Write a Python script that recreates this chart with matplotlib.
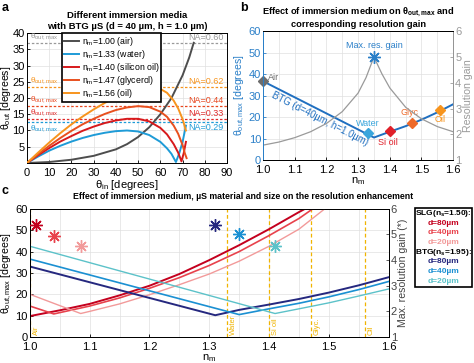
import matplotlib
matplotlib.use('Agg')
import matplotlib.pyplot as plt
from matplotlib.patches import Rectangle

plt.rcParams['font.family'] = ['Liberation Sans', 'DejaVu Sans']
plt.rcParams['mathtext.fontset'] = 'custom'
plt.rcParams['mathtext.rm'] = 'Liberation Sans'
plt.rcParams['mathtext.it'] = 'Liberation Sans:italic'
plt.rcParams['mathtext.bf'] = 'Liberation Sans:bold'
plt.rcParams['font.size'] = 7
for ax_ in ('xtick', 'ytick'):
    plt.rcParams[ax_ + '.direction'] = 'in'
    plt.rcParams[ax_ + '.major.size'] = 2.5
    plt.rcParams[ax_ + '.major.width'] = 0.6
    plt.rcParams[ax_ + '.labelsize'] = 8
    plt.rcParams[ax_ + '.major.pad'] = 1.5
plt.rcParams['xtick.major.pad'] = 3.5
plt.rcParams['axes.linewidth'] = 0.7

# ---------------- data: panel a ----------------
air_in = [0, 10, 20, 30, 40, 45, 50, 55, 60, 65, 70, 73, 75]
air_out = [0, 0.3, 1.0, 2.2, 4.2, 5.8, 8.0, 11.0, 15.0, 20.0, 27.0, 32.5, 37.0]
water_in = [0, 5, 10, 15, 20, 25, 30, 35, 40, 45, 50, 55, 60, 63, 65, 67, 68.5, 70, 71.5]
water_out = [0, 2.0, 3.8, 5.3, 6.6, 7.7, 8.6, 9.3, 9.8, 10.0, 9.7, 8.6, 6.5, 4.5, 2.8, 0.3, 3.0, 6.5, 11.5]
sil_in = [0, 5, 10, 15, 20, 25, 30, 35, 40, 45, 50, 55, 60, 63, 66, 68, 69.5, 70.5, 71.5]
sil_out = [0, 2.4, 4.6, 6.6, 8.3, 9.9, 11.2, 12.3, 13.1, 13.6, 13.6, 12.8, 10.8, 8.8, 5.8, 3.2, 0.5, 3.0, 6.5]
gly_in = [0, 5, 10, 15, 20, 25, 30, 35, 40, 45, 50, 55, 60, 63, 66, 68, 70, 71, 71.8]
gly_out = [0, 2.7, 5.3, 7.7, 9.9, 11.9, 13.6, 15.1, 16.3, 17.1, 17.5, 17.2, 15.8, 14.2, 11.5, 9.0, 5.5, 3.0, 1.5]
oil_in = [0, 5, 10, 15, 20, 25, 30, 35, 40, 45, 50, 55, 60, 63, 66, 68, 70, 71.5]
oil_out = [0, 3.2, 6.3, 9.2, 11.9, 14.3, 16.5, 18.5, 20.2, 21.6, 22.7, 23.3, 22.8, 21.6, 19.2, 16.8, 13.5, 10.0]
a_labels = ['=1.00 (air)', '=1.33 (water)', '=1.40 (silicon oil)', '=1.47 (glycerol)', '=1.56 (oil)']
a_colors = ['#4d4d4d', '#1e9bd7', '#d7191c', '#e8501e', '#f7941d']
na_vals = [36.9, 23.4, 17.4, 13.6, 12.6]
na_text = ['NA=0.60', 'NA=0.62', 'NA=0.44', 'NA=0.33', 'NA=0.29']
na_colors = ['#999999', '#f7941d', '#e8461e', '#e02a2a', '#1e9bd7']

# ---------------- data: panel b ----------------
btg_n = [1.0, 1.35, 1.4, 1.45, 1.5, 1.55, 1.6]
btg_t = [36.7, 10.5, 13.2, 15.8, 18.8, 22.2, 26.0]
gain_n = [1.0, 1.05, 1.1, 1.15, 1.2, 1.25, 1.3, 1.325, 1.35, 1.375, 1.4, 1.45, 1.5, 1.55, 1.6]
gain_v = [1.58, 1.70, 1.87, 2.10, 2.42, 2.88, 3.60, 4.20, 5.0, 4.35, 3.80, 3.05, 2.60, 2.30, 2.10]
med_names = ['Air', 'Water', 'Si oil', 'Glyc.', 'Oil']
med_n = [1.00, 1.33, 1.40, 1.47, 1.56]
med_t = [36.7, 12.6, 13.4, 17.2, 23.4]
med_colors = ['#6d6d6d', '#3aa6dc', '#e0202a', '#ee6a2a', '#f7941d']

# ---------------- data: panel c ----------------
slg80_n = [1.0, 1.05, 1.1, 1.15, 1.2, 1.25, 1.3, 1.35, 1.4, 1.45, 1.46]
slg80_t = [9.8, 12.5, 15.5, 19.5, 24.0, 29.5, 36.0, 43.0, 50.5, 58.5, 60.0]
slg40_n = [1.0, 1.04, 1.1, 1.15, 1.2, 1.25, 1.3, 1.35, 1.4, 1.45, 1.473]
slg40_t = [14.5, 10.8, 14.5, 18.3, 22.8, 27.8, 33.5, 40.0, 47.5, 55.5, 60.0]
slg20_n = [1.0, 1.085, 1.1, 1.15, 1.2, 1.25, 1.3, 1.35, 1.4, 1.45, 1.493]
slg20_t = [20.0, 11.0, 12.0, 15.5, 19.8, 24.5, 29.5, 35.5, 42.5, 50.5, 60.0]
btg80_n = [1.0, 1.31, 1.35, 1.4, 1.45, 1.5, 1.55, 1.6]
btg80_t = [33.0, 10.2, 12.7, 15.2, 17.8, 20.8, 24.2, 28.0]
btg40_n = [1.0, 1.35, 1.4, 1.45, 1.5, 1.55, 1.6]
btg40_t = [36.5, 10.5, 13.2, 15.8, 18.8, 22.2, 26.0]
btg20_n = [1.0, 1.41, 1.45, 1.5, 1.55, 1.6]
btg20_t = [42.5, 11.0, 13.2, 16.0, 19.2, 22.5]
star_n = [1.01, 1.04, 1.085, 1.31, 1.35, 1.41]
star_gain = [5.38, 4.96, 4.54, 5.39, 5.0, 4.54]
c_colors = ['#c4001e', '#e8424c', '#f29a9a', '#25287f', '#1b90d2', '#5cc2c9']
c_widths = [1.4, 1.2, 1.0, 1.4, 1.2, 1.0]
c_legend = ['d=80µm', 'd=40µm', 'd=20µm']

fig = plt.figure(figsize=(4.74, 3.63), dpi=100)
grid_kw = dict(color='#e0e0e0', lw=0.5)
lab_fs = 7.6

# ================= panel a =================
ax = fig.add_axes([0.057, 0.551, 0.422, 0.358])
curves = [(air_in, air_out), (water_in, water_out), (sil_in, sil_out), (gly_in, gly_out), (oil_in, oil_out)]
for (xx, yy), c, lab in zip(curves, a_colors, a_labels):
    ax.plot(xx, yy, color=c, lw=1.4, label='n$_{\\mathregular{m}}$' + lab, zorder=3)
for i, (v, t, c) in enumerate(zip(na_vals, na_text, na_colors)):
    ax.axhline(v, color=c, lw=0.9, ls=(0, (2, 1.5)), zorder=2)
    va = 'top' if i == 4 else 'bottom'
    dy = -0.3 if i == 4 else 0.3
    ax.text(88.5, v + dy, t, color=c, ha='right', va=va, fontsize=6.5)
    ax.text(1.5, v + dy, 'θ$_{\\mathregular{out,max}}$', color=c, ha='left', va=va, fontsize=6)
ax.set_xlim(0, 90)
ax.set_ylim(0, 40)
ax.set_xticks(range(0, 91, 10))
ax.set_yticks(range(5, 41, 5))
ax.grid(True, **grid_kw)
ax.set_axisbelow(True)
ax.set_xlabel('θ$_{\\mathregular{in}}$ [degrees]', fontsize=8, labelpad=0)
ax.set_ylabel('θ$_{\\mathregular{out}}$ [degrees]', fontsize=lab_fs)
ax.yaxis.set_label_coords(-0.072, 0.5)
leg = ax.legend(loc='upper left', bbox_to_anchor=(0.175, 1.0), fontsize=6.3, handlelength=1.7,
                handletextpad=0.35, labelspacing=0.0, borderpad=0.2, borderaxespad=0.0,
                fancybox=False, framealpha=1)
leg.get_frame().set_edgecolor('black')
leg.get_frame().set_linewidth(1.2)
ax.set_title('Different immersion media\nwith BTG µS (d = 40 µm, h = 1.0 µm)', fontsize=6.8,
             fontweight='bold', pad=3, linespacing=1.2)
fig.text(0.004, 0.995, 'a', fontsize=9, fontweight='bold', va='top')

# ================= panel b =================
axb = fig.add_axes([0.555, 0.559, 0.401, 0.355])
axb2 = axb.twinx()
blue_b = '#1f6fc0'
axb.plot(btg_n, btg_t, color=blue_b, lw=1.4, zorder=3)
axb.set_xlim(1.0, 1.6)
axb.set_ylim(0, 60)
axb.set_xticks([1.0, 1.1, 1.2, 1.3, 1.4, 1.5, 1.6])
axb.set_xticks([1.05, 1.15, 1.25, 1.35, 1.45, 1.55], minor=True)
axb.tick_params(axis='x', which='minor', length=0)
axb.set_yticks(range(0, 61, 10))
axb.grid(True, which='both', **grid_kw)
axb.set_axisbelow(True)
axb.tick_params(axis='y', colors='#2a7fc8')
axb.spines['left'].set_color('#2a7fc8')
axb.set_ylabel('θ$_{\\mathregular{out,max}}$ [degrees]', color='#2a7fc8', fontsize=lab_fs)
axb.yaxis.set_label_coords(-0.086, 0.5)
axb.set_xlabel('n$_{\\mathregular{m}}$', fontsize=8, labelpad=0)
for nm, n, t, c in zip(med_names, med_n, med_t, med_colors):
    axb.plot([n], [t], marker='D', ms=5.5, color=c, mec=c, zorder=5, clip_on=False)
label_pos = [(1.015, 38.5, 'left', 'center'), (1.33, 15.0, 'center', 'bottom'),
             (1.395, 10.5, 'center', 'top'), (1.462, 20.0, 'center', 'bottom'),
             (1.56, 21.0, 'center', 'top')]
for (x, y, ha, va), nm, c in zip(label_pos, med_names, med_colors):
    txt = 'Glyc' if nm == 'Glyc.' else nm
    axb.text(x, y, txt, color=c, ha=ha, va=va, fontsize=6.5)
axb.text(1.18, 19.3, 'BTG (d=40µm, h=1.0µm)', color=blue_b, rotation=-27, ha='center', va='center',
         fontsize=6.9, rotation_mode='anchor')
axb2.plot(gain_n, gain_v, color='#9a9a9a', lw=0.9, zorder=2)
axb2.plot([1.35], [5.0], marker=(8, 2, 0), ms=9, mew=1.0, color='#2a7fc8', zorder=6)
axb2.text(1.35, 5.28, 'Max. res. gain', color='#2a7fc8', ha='center', va='bottom', fontsize=6.5)
axb2.set_ylim(1, 6)
axb2.set_yticks(range(1, 7))
axb2.tick_params(axis='y', colors='#9a9a9a')
axb2.spines['right'].set_color('#9a9a9a')
axb2.spines['left'].set_color('#2a7fc8')
axb2.set_ylabel('Resolution gain', color='#9a9a9a', fontsize=lab_fs)
axb2.yaxis.set_label_coords(1.05, 0.5)
axb.set_title('Effect of immersion medium on θ$_{\\mathregular{out,max}}$ and\ncorresponding resolution gain',
              fontsize=6.7, fontweight='bold', pad=3, linespacing=1.2)
fig.text(0.506, 0.995, 'b', fontsize=9, fontweight='bold', va='top')

# ================= panel c =================
axc = fig.add_axes([0.063, 0.0716, 0.757, 0.353])
axc2 = axc.twinx()
series = [(slg80_n, slg80_t), (slg40_n, slg40_t), (slg20_n, slg20_t),
          (btg80_n, btg80_t), (btg40_n, btg40_t), (btg20_n, btg20_t)]
for (xx, yy), c, w in zip(series, c_colors, c_widths):
    axc.plot(xx, yy, color=c, lw=w, zorder=3)
gold = '#f0b400'
for nm, n in zip(med_names, med_n):
    axc.axvline(n, color=gold, lw=0.9, ls=(0, (3, 2)), zorder=2)
    axc.text(n + 0.005, 0.8, nm, color=gold, rotation=90, ha='left', va='bottom', fontsize=5.5)
axc.set_xlim(1.0, 1.6)
axc.set_ylim(0, 60)
axc.set_xticks([1.0, 1.1, 1.2, 1.3, 1.4, 1.5, 1.6])
axc.set_xticks([1.05, 1.15, 1.25, 1.35, 1.45, 1.55], minor=True)
axc.tick_params(axis='x', which='minor', length=0)
axc.set_yticks(range(0, 61, 10))
axc.grid(True, which='both', **grid_kw)
axc.set_axisbelow(True)
axc.set_ylabel('θ$_{\\mathregular{out,max}}$ [degrees]', fontsize=lab_fs)
axc.yaxis.set_label_coords(-0.043, 0.5)
axc.set_xlabel('n$_{\\mathregular{m}}$', fontsize=8, labelpad=0)
for n, g, c in zip(star_n, star_gain, c_colors):
    axc2.plot([n], [g], marker=(8, 2, 0), ms=9, mew=1.0, color=c, zorder=6, clip_on=False)
axc2.set_ylim(1, 6)
axc2.set_yticks(range(1, 7))
axc2.tick_params(axis='y', colors='#444444')
axc2.set_ylabel('Max. resolution gain (*)', fontsize=lab_fs, color='#444444')
axc2.yaxis.set_label_coords(1.025, 0.5)
fig.text(0.513, 0.458, 'Effect of immersion medium, µS material and size on the resolution enhancement',
         ha='center', va='center', fontsize=6.3, fontweight='bold')
fig.text(0.004, 0.49, 'c', fontsize=9, fontweight='bold', va='top')

# legend box for panel c
axl = fig.add_axes([0.876, 0.209, 0.12, 0.218])
axl.set_xlim(0, 1)
axl.set_ylim(0, 1)
axl.axis('off')
axl.add_patch(Rectangle((0, 0), 1, 1, transform=axl.transAxes, fill=False, ec='black', lw=1.2, clip_on=False))
rows = ['SLG(n$_{\\mathregular{s}}$=1.50):'] + c_legend + ['BTG(n$_{\\mathregular{s}}$=1.95):'] + c_legend
row_colors = ['black'] + c_colors[:3] + ['black'] + c_colors[3:]
for i, (r, c) in enumerate(zip(rows, row_colors)):
    y = 0.93 - i * 0.122
    axl.text(0.5, y, r, color=c, ha='center', va='center', fontsize=6, fontweight='bold')

fig.savefig('out.png', dpi=100)
